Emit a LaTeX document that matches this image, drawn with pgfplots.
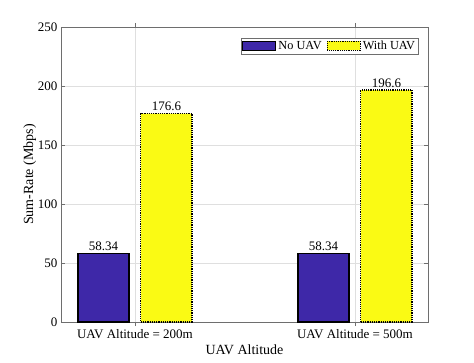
\documentclass[border=0pt]{standalone}
\usepackage{pgfplots}
\pgfplotsset{compat=1.18}
\usepackage{fontspec}
\setmainfont{Liberation Serif}
\definecolor{barblue}{RGB}{62,40,168}
\definecolor{baryellow}{RGB}{250,250,20}
\definecolor{axgray}{RGB}{110,110,110}
\begin{document}
\begin{tikzpicture}[x=1pt,y=1pt]
\path[use as bounding box] (0,0) rectangle (474,362);
\begin{axis}[
  at={(61pt,40pt)}, anchor=south west,
  scale only axis, width=367pt, height=295pt,
  /pgf/number format/assume math mode=true,
  xmin=0.664, xmax=2.332, ymin=0, ymax=250,
  xtick={1,2}, xticklabels={UAV Altitude = 200m, UAV Altitude = 500m},
  ytick={0,50,100,150,200,250},
  tick label style={font=\fontsize{13}{15}\selectfont},
  xlabel={UAV Altitude}, ylabel={Sum-Rate (Mbps)},
  label style={font=\fontsize{14}{16}\selectfont},
  xlabel style={at={(axis description cs:0.5,-0.095)}, anchor=center},
  ylabel style={at={(axis description cs:-0.085,0.5)}, anchor=center},
  grid=major, major grid style={gray!25, line width=0.5pt},
  axis line style={axgray, line width=0.8pt},
  tick style={axgray, line width=0.6pt}, major tick length=4pt,
  tick align=inside,
  ybar, bar width=0.232,
  nodes near coords={\pgfmathprintnumber[fixed,precision=2]{\pgfplotspointmeta}},
  every node near coord/.append style={font=\fontsize{13}{15}\selectfont, black, inner sep=2pt},
  legend columns=2,
  legend style={at={(rel axis cs:0.973,0.963)}, anchor=north east,
    draw=axgray, line width=0.6pt, fill=white, font=\fontsize{12.3}{14}\selectfont,
    inner sep=1pt, outer sep=0pt,
    /tikz/every even column/.append style={column sep=3pt}},
  legend image code/.code={\draw[#1] (0pt,-4.5pt) rectangle (33pt,4.5pt);},
]
\addplot[bar shift=-0.143, fill=barblue, draw=black, line width=1.2pt]
  coordinates {(1,58.34) (2,58.34)};
\addplot[bar shift=0.143, fill=baryellow, draw=black, line width=1.2pt, densely dotted]
  coordinates {(1,176.6) (2,196.6)};
\legend{No UAV, With UAV}
\end{axis}
\end{tikzpicture}
\end{document}
